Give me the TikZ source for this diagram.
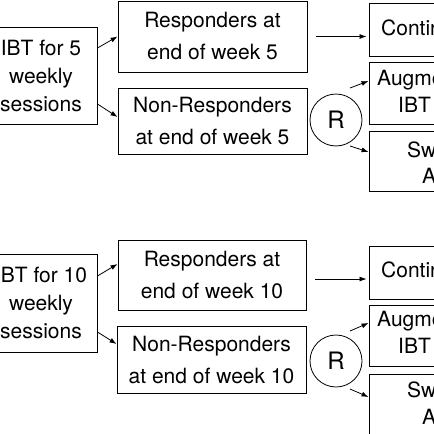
\documentclass[tikz,border=0pt]{standalone}
\usepackage{fontspec}
\setmainfont{TeX Gyre Heros}
\usetikzlibrary{arrows.meta}
\begin{document}
\begin{tikzpicture}[x=1pt, y=-1pt,
    box/.style={draw, line width=0.9pt, inner sep=0pt, align=center, font=\fontsize{21}{32}\selectfont},
    ibtbox/.style={box, font=\fontsize{21}{28}\selectfont},
    rnode/.style={draw, circle, line width=0.8pt, minimum size=52pt, inner sep=0pt, font=\fontsize{24}{28}\selectfont},
    lbl/.style={anchor=base west, inner sep=0pt, font=\fontsize{21}{32}\selectfont},
    arr/.style={-{Latex[length=7pt,width=5pt]}, line width=0.8pt}]
    \clip (0,0) rectangle (434,434);

    % Blocco superiore (5 settimane)
    \node[ibtbox, minimum width=112pt, minimum height=97pt] (ibtA) at (41,75.5) {IBT for 5\\weekly\\sessions};
    \node[box, minimum width=189pt, minimum height=71pt] (respA) at (212.5,36.5) {Responders at\\end of week 5};
    \node[box, minimum width=189pt, minimum height=66pt] (nonA) at (212.5,121) {Non-Responders\\at end of week 5};
    \node[rnode] (RA) at (336,120) {R};
    \node[box, minimum width=131pt, minimum height=53pt] (contA) at (434.5,29.5) {};
    \node[box, minimum width=131pt, minimum height=62pt] (augA) at (434.5,93) {};
    \node[box, minimum width=131pt, minimum height=60pt] (swA) at (434.5,161) {};
    \node[lbl] (tcA) at (381,35) {Continue};
    \node[lbl] (taA) at (377,85) {Augment};
    \node[lbl] (tbA) at (398,112) {IBT};
    \node[lbl] (tsA) at (407,157) {Switch};
    \node[lbl] (ttA) at (422,183) {A};

    % Frecce
    \draw[arr] ([yshift=27.5pt]ibtA.east) -- (respA.west);
    \draw[arr] ([yshift=-28.5pt]ibtA.east) -- ([yshift=4pt]nonA.west);
    \coordinate (rA) at (respA.east);
    \draw[arr, shorten <=9pt, shorten >=2pt] (rA) -- (rA -| contA.west);
    \draw[arr] ([shift={(14,-32)}]RA.center) -- ([yshift=12pt]augA.west);
    \draw[arr] ([shift={(14,26)}]RA.center) -- ([yshift=9pt]swA.west);

    % Blocco inferiore (10 settimane)
    \node[ibtbox, minimum width=112pt, minimum height=98pt] (ibtB) at (41,303) {IBT for 10\\weekly\\sessions};
    \node[box, minimum width=188pt, minimum height=70pt] (respB) at (212,275) {Responders at\\end of week 10};
    \node[box, minimum width=189pt, minimum height=67pt] (nonB) at (211.5,359.5) {Non-Responders\\at end of week 10};
    \node[rnode] (RB) at (336,361) {R};
    \node[box, minimum width=131pt, minimum height=53pt] (contB) at (434.5,272.5) {};
    \node[box, minimum width=131pt, minimum height=61pt] (augB) at (434.5,335.5) {};
    \node[box, minimum width=131pt, minimum height=106pt] (swB) at (434.5,427) {};
    \node[lbl] (tcB) at (381,277) {Continue};
    \node[lbl] (taB) at (377,326) {Augment};
    \node[lbl] (tbB) at (398,353) {IBT};
    \node[lbl] (tsB) at (407,397) {Switch};
    \node[lbl] (ttB) at (422,424) {A};

    % Frecce
    \draw[arr] ([yshift=27pt]ibtB.east) -- ([yshift=11pt]respB.west);
    \draw[arr] ([yshift=-29pt]ibtB.east) -- ([yshift=15.5pt]nonB.west);
    \coordinate (rB) at ([yshift=-4pt]respB.east);
    \draw[arr, shorten <=9pt, shorten >=2pt] (rB) -- (rB -| contB.west);
    \draw[arr] ([shift={(14,-30)}]RB.center) -- ([yshift=12.5pt]augB.west);
    \draw[arr] ([shift={(14,28)}]RB.center) -- ([yshift=30pt]swB.west);
\end{tikzpicture}
\end{document}
